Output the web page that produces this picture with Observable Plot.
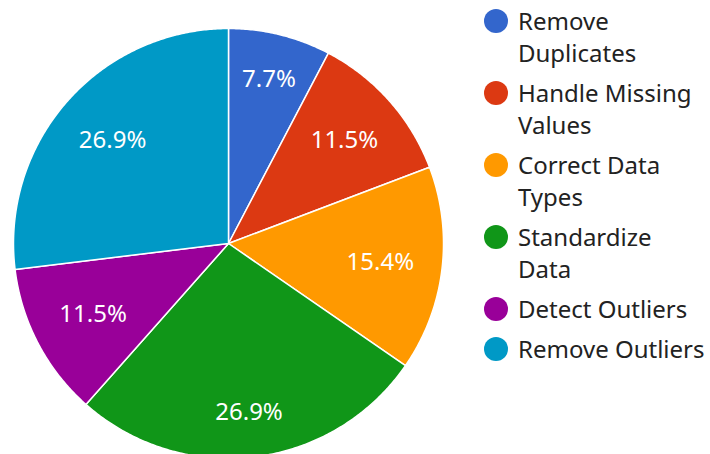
<!DOCTYPE html>
<html>
<head>
<meta charset="utf-8">
<script src="https://cdn.jsdelivr.net/npm/d3@7"></script>
<script src="https://cdn.jsdelivr.net/npm/@observablehq/plot@0.6"></script>
<style>
  html, body { margin: 0; padding: 0; background: #fff; }
  #wrap { position: relative; width: 710px; height: 454px; overflow: hidden; font-family: "Noto Sans", "Open Sans", sans-serif; }
  #chart { position: absolute; left: 0; top: 0; }
  #legend { position: absolute; left: 484px; top: 5px; width: 240px; }
  .item { display: flex; align-items: flex-start; margin-bottom: 8px; }
  .sw { width: 24px; height: 24px; border-radius: 50%; margin-top: 4px; margin-right: 10px; flex: none; }
  .lab { font-size: 24px; line-height: 32px; color: #222222; white-space: nowrap; }
</style>
</head>
<body>
<div id="wrap">
  <div id="chart"></div>
  <div id="legend"></div>
</div>
<script>
// ---- data ----
const categories = ["Remove Duplicates", "Handle Missing Values", "Correct Data Types", "Standardize Data", "Detect Outliers", "Remove Outliers"];
const values = [2, 3, 4, 7, 3, 7];
const colors = ["#3366cc", "#dc3912", "#ff9900", "#109618", "#990099", "#0099c6"];
// number of words on the first legend line (0 = no wrap)
const legendBreaks = [1, 2, 2, 1, 0, 0];

// ---- geometry (data units: pie radius = 1) ----
const W = 710, H = 454, R = 215, CX = 228, CY = 243;
const total = d3.sum(values);
const slices = [];
let acc = 0;
categories.forEach((c, i) => {
  const a0 = acc / total * 2 * Math.PI;
  acc += values[i];
  const a1 = acc / total * 2 * Math.PI;
  slices.push({cat: c, value: values[i], a0, a1});
});

// polygon points for each wedge
const pts = [];
for (const s of slices) {
  pts.push({cat: s.cat, x: 0, y: 0});
  const n = Math.max(2, Math.ceil((s.a1 - s.a0) / (Math.PI / 360)));
  for (let k = 0; k <= n; k++) {
    const a = s.a0 + (s.a1 - s.a0) * k / n;
    pts.push({cat: s.cat, x: Math.sin(a), y: Math.cos(a)});
  }
  pts.push({cat: s.cat, x: 0, y: 0});
}

// label positions: farthest corner of text box sits at a fixed radius
const fontSize = 24;
const ctx = document.createElement("canvas").getContext("2d");
ctx.font = `${fontSize}px "Noto Sans"`;
const labels = slices.map(s => {
  const txt = (s.value / total * 100).toFixed(1) + "%";
  const m = (s.a0 + s.a1) / 2;
  const ux = Math.sin(m), uy = Math.cos(m);
  const hw = ctx.measureText(txt).width / 2 / R, hh = 11 / R, T = 188 / R;
  const kx = Math.sign(ux) * hw, ky = Math.sign(uy) * hh;
  const uk = ux * kx + uy * ky;
  const d = -uk + Math.sqrt(uk * uk - (kx * kx + ky * ky) + T * T);
  return {txt, x: d * ux, y: d * uy};
});

const chart = Plot.plot({
  width: W,
  height: H,
  margin: 0,
  x: {domain: [-CX / R, (W - CX) / R], axis: null},
  y: {domain: [-(H - CY) / R, CY / R], axis: null},
  color: {domain: categories, range: colors},
  style: {background: "transparent"},
  marks: [
    Plot.line(pts, {x: "x", y: "y", z: "cat", fill: "cat", stroke: "white", strokeWidth: 1.5, strokeLinejoin: "round"}),
    Plot.text(labels, {x: "x", y: "y", text: "txt", fill: "white", fontSize: fontSize, fontFamily: "Noto Sans"})
  ]
});
document.getElementById("chart").appendChild(chart);

// legend
const leg = document.getElementById("legend");
categories.forEach((c, i) => {
  const words = c.split(" ");
  const b = legendBreaks[i];
  const html = b > 0 ? words.slice(0, b).join(" ") + "<br>" + words.slice(b).join(" ") : c;
  const it = document.createElement("div");
  it.className = "item";
  it.innerHTML = `<div class="sw" style="background:${colors[i]}"></div><div class="lab">${html}</div>`;
  leg.appendChild(it);
});
</script>
</body>
</html>
